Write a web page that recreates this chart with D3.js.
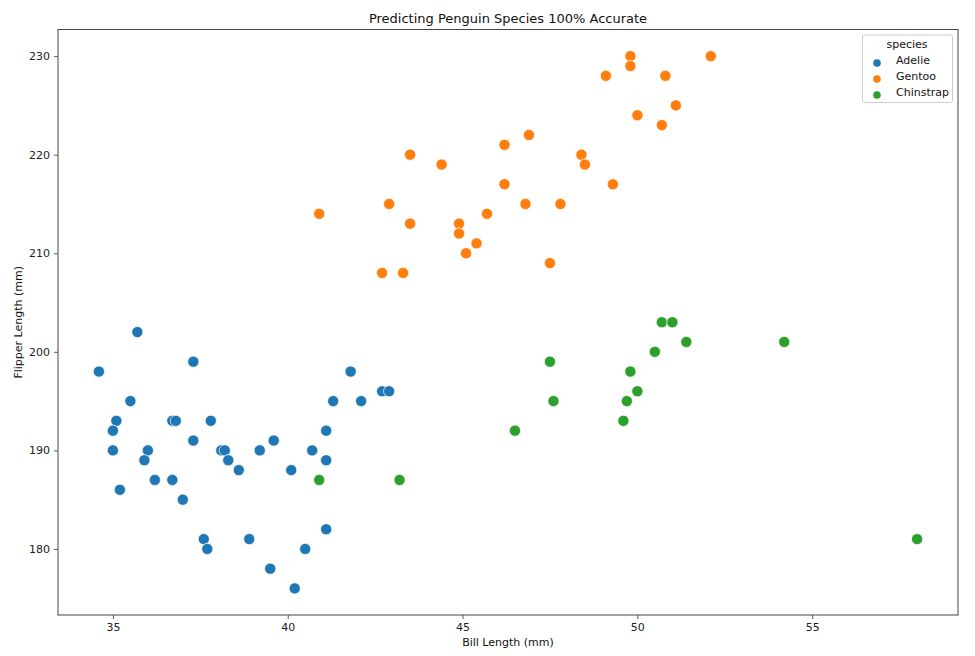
<!DOCTYPE html>
<html><head><meta charset="utf-8">
<script src="https://cdn.jsdelivr.net/npm/d3@7"></script>
<style>body{margin:0;background:#fff;} text{font-family:"DejaVu Sans",sans-serif;}</style>
</head><body>
<svg id="chart" width="975" height="656"></svg>
<script>
const species = ["Adelie", "Gentoo", "Chinstrap"];
const colors = ["#1f77b4", "#ff7f0e", "#2ca02c"];

const adelieBill = [35.7,34.6,37.3,41.8,42.7,42.9,35.5,41.3,42.1,35.1,36.7,36.8,37.8,35.0,41.1,37.3,39.6,35.0,36.0,38.1,38.2,39.2,40.7,35.9,38.3,41.1,38.6,40.1,36.2,36.7,35.2,37.0,41.1,37.6,38.9,37.7,40.5,39.5,40.2];
const adelieFlipper = [202,198,199,198,196,196,195,195,195,193,193,193,193,192,192,191,191,190,190,190,190,190,190,189,189,189,188,188,187,187,186,185,182,181,181,180,180,178,176];

const gentooBill = [49.8,52.1,49.8,49.1,50.8,51.1,50.0,50.7,46.9,46.2,43.5,48.4,44.4,48.5,46.2,49.3,42.9,46.8,47.8,40.9,45.7,43.5,44.9,44.9,45.4,45.1,47.5,42.7,43.3];
const gentooFlipper = [230,230,229,228,228,225,224,223,222,221,220,220,219,219,217,217,215,215,215,214,214,213,213,212,211,210,209,208,208];

const chinstrapBill = [40.9,43.2,46.5,47.5,47.6,49.6,49.7,50.0,49.8,50.5,50.7,51.0,51.4,54.2,58.0];
const chinstrapFlipper = [187,187,192,199,195,193,195,196,198,200,203,203,201,201,181];

const xTicks = [35,40,45,50,55];
const yTicks = [180,190,200,210,220,230];

const data = [];
adelieBill.forEach((b,i)=>data.push({s:0,x:b,y:adelieFlipper[i]}));
gentooBill.forEach((b,i)=>data.push({s:1,x:b,y:gentooFlipper[i]}));
chinstrapBill.forEach((b,i)=>data.push({s:2,x:b,y:chinstrapFlipper[i]}));

const svg = d3.select("#chart");
const L=58, R=958, T=29.5, B=615;
const allX = data.map(d=>d.x), allY = data.map(d=>d.y);
const xmin=d3.min(allX), xmax=d3.max(allX), ymin=d3.min(allY), ymax=d3.max(allY);
const xm=(xmax-xmin)*0.05, ym=(ymax-ymin)*0.05;
const x = d3.scaleLinear().domain([xmin-xm, xmax+xm]).range([L,R]);
const y = d3.scaleLinear().domain([ymin-ym, ymax+ym]).range([B,T]);

const fs = 11;
const xAxis = svg.append("g").attr("transform",`translate(0,${B})`)
  .call(d3.axisBottom(x).tickValues(xTicks).tickFormat(d3.format("d")).tickSizeOuter(0).tickSize(4).tickPadding(4));
const yAxis = svg.append("g").attr("transform",`translate(${L},0)`)
  .call(d3.axisLeft(y).tickValues(yTicks).tickFormat(d3.format("d")).tickSizeOuter(0).tickSize(4).tickPadding(4));
[xAxis,yAxis].forEach(a=>{
  a.select(".domain").remove();
  a.selectAll("line").attr("stroke","#333").attr("stroke-width",0.8);
  a.selectAll("text").attr("fill","#222").style("font-size",fs+"px").style("font-family","DejaVu Sans");
});

svg.append("g").selectAll("circle").data(data).join("circle")
  .attr("cx",d=>x(d.x)).attr("cy",d=>y(d.y)).attr("r",5.6)
  .attr("fill",d=>colors[d.s]).attr("stroke","#fff").attr("stroke-width",0.7);

svg.append("rect").attr("x",L).attr("y",T).attr("width",R-L).attr("height",B-T)
  .attr("fill","none").attr("stroke","#444").attr("stroke-width",1);

svg.append("text").attr("x",(L+R)/2).attr("y",23).attr("text-anchor","middle")
  .style("font-size","13px").attr("fill","#111").text("Predicting Penguin Species 100% Accurate");
svg.append("text").attr("x",(L+R)/2).attr("y",646).attr("text-anchor","middle")
  .style("font-size",fs+"px").attr("fill","#111").text("Bill Length (mm)");
svg.append("text").attr("transform",`translate(22,${(T+B)/2}) rotate(-90)`).attr("text-anchor","middle")
  .style("font-size",fs+"px").attr("fill","#111").text("Flipper Length (mm)");

const lg = svg.append("g");
lg.append("rect").attr("x",862.5).attr("y",35).attr("width",90).attr("height",67.5).attr("rx",2)
  .attr("fill","#fff").attr("fill-opacity",0.8).attr("stroke","#ccc").attr("stroke-width",1);
lg.append("text").attr("x",907).attr("y",48).attr("text-anchor","middle").style("font-size","11px").attr("fill","#111").text("species");
species.forEach((s,i)=>{
  const yy = 60 + i*16;
  lg.append("circle").attr("cx",877).attr("cy",yy+3).attr("r",3.8).attr("fill",colors[i]);
  lg.append("text").attr("x",896).attr("y",yy+4).style("font-size","11px").attr("fill","#111").text(s);
});
</script>
</body></html>
